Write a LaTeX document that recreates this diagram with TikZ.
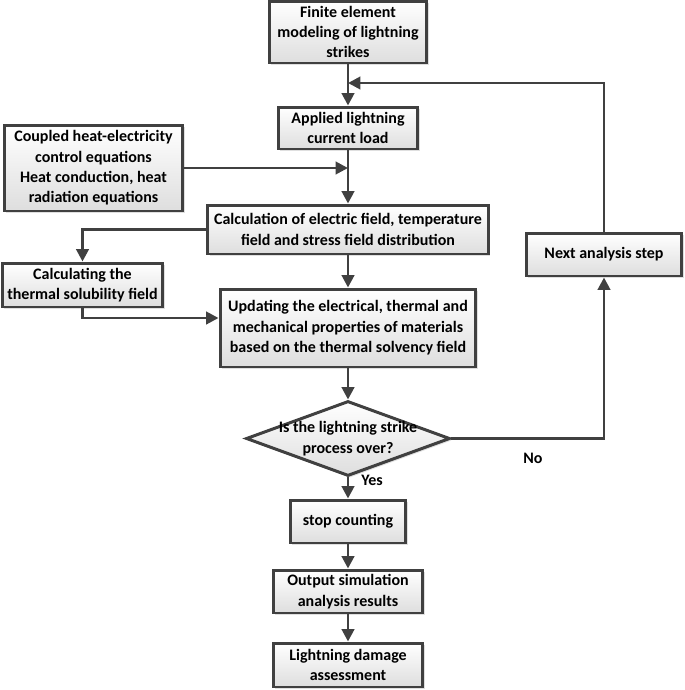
\documentclass[tikz,border=0pt]{standalone}
\usepackage{fontspec}
\setmainfont{Carlito}
\usepackage{tikz}
\usetikzlibrary{positioning,arrows.meta,calc,shapes.geometric,shadows}
\tikzset{
  blk/.style={draw=black!75,line width=1.7pt,top color=white,bottom color=black!13,
    inner sep=0pt,align=center,font=\fontsize{9.1}{11.6}\selectfont\bfseries,
    drop shadow={shadow xshift=0.04cm,shadow yshift=-0.04cm,opacity=0.25}},
  dec/.style={blk,diamond,minimum width=4.08cm,minimum height=1.5cm},  % decision
  flw/.style={-{Triangle[length=7pt,width=7pt]},draw=black!75,line width=1.6pt},
  lbl/.style={font=\fontsize{9.1}{11.6}\selectfont\bfseries,inner sep=0pt,align=center},
}

\begin{document}
\begin{tikzpicture}[x=0.02cm,y=-0.02cm]
  \useasboundingbox (0,0) rectangle (685,690);
  % main column
  \node[blk,minimum width=3.16cm,minimum height=1.24cm] (fem) at (348,32)
    {Finite element\\modeling of lightning\\strikes};
  \node[blk,minimum width=2.80cm,minimum height=0.84cm] (load) at (348,128)
    {Applied lightning\\current load};
  \node[blk,minimum width=5.62cm,minimum height=0.98cm] (calc) at (348,229.5)
    {Calculation of electric field, temperature\\field and stress field distribution};
  \node[blk,minimum width=5.12cm,minimum height=1.56cm] (upd) at (348,328)
    {Updating the electrical, thermal and\\mechanical properties of materials\\based on the thermal solvency field};
  \node[dec] (dia) at (348,438.5) {};
  \node[lbl] (diaq) at (dia.center) {Is the lightning strike\\process over?};
  \node[blk,minimum width=2.32cm,minimum height=0.86cm] (stop) at (348,521.5) {stop counting};
  \node[blk,minimum width=3.00cm,minimum height=0.86cm] (out) at (348,591.5)
    {Output simulation\\analysis results};
  \node[blk,minimum width=3.00cm,minimum height=0.88cm] (dmg) at (348,665)
    {Lightning damage\\assessment};
  % side boxes
  \node[blk,minimum width=3.58cm,minimum height=1.72cm] (coup) at (93.5,168)
    {Coupled heat-electricity\\control equations\\Heat conduction, heat\\radiation equations};
  \node[blk,minimum width=3.22cm,minimum height=0.88cm] (sol) at (82.5,285)
    {Calculating the\\thermal solubility field};
  \node[blk,minimum width=3.12cm,minimum height=0.86cm] (next) at (604,254.5)
    {Next analysis step};
  \coordinate (j1) at (348,83);
  \coordinate (j2) at (348,168);

  % connectors
  \draw[flw] (fem) -- (load);
  \draw[flw] (load) -- (calc);
  \draw[flw] (coup.east) -- (j2);
  \draw[flw] (calc) -- (upd);
  \draw[flw] (calc.west) -| (sol.north);
  \draw[flw] (sol.south) |- ([yshift=0.2cm]upd.west);
  \draw[flw] (upd) -- (dia);
  \draw[flw] (dia.east) -| (next.south);
  \draw[flw] (next.north) |- (j1);
  \draw[flw] (dia.south) -- (stop);
  \draw[flw] (stop) -- (out);
  \draw[flw] (out) -- (dmg);
  \node[lbl] (yes) at (372,480) {Yes};
  \node[lbl] (no) at (533,458) {No};
\end{tikzpicture}
\end{document}
